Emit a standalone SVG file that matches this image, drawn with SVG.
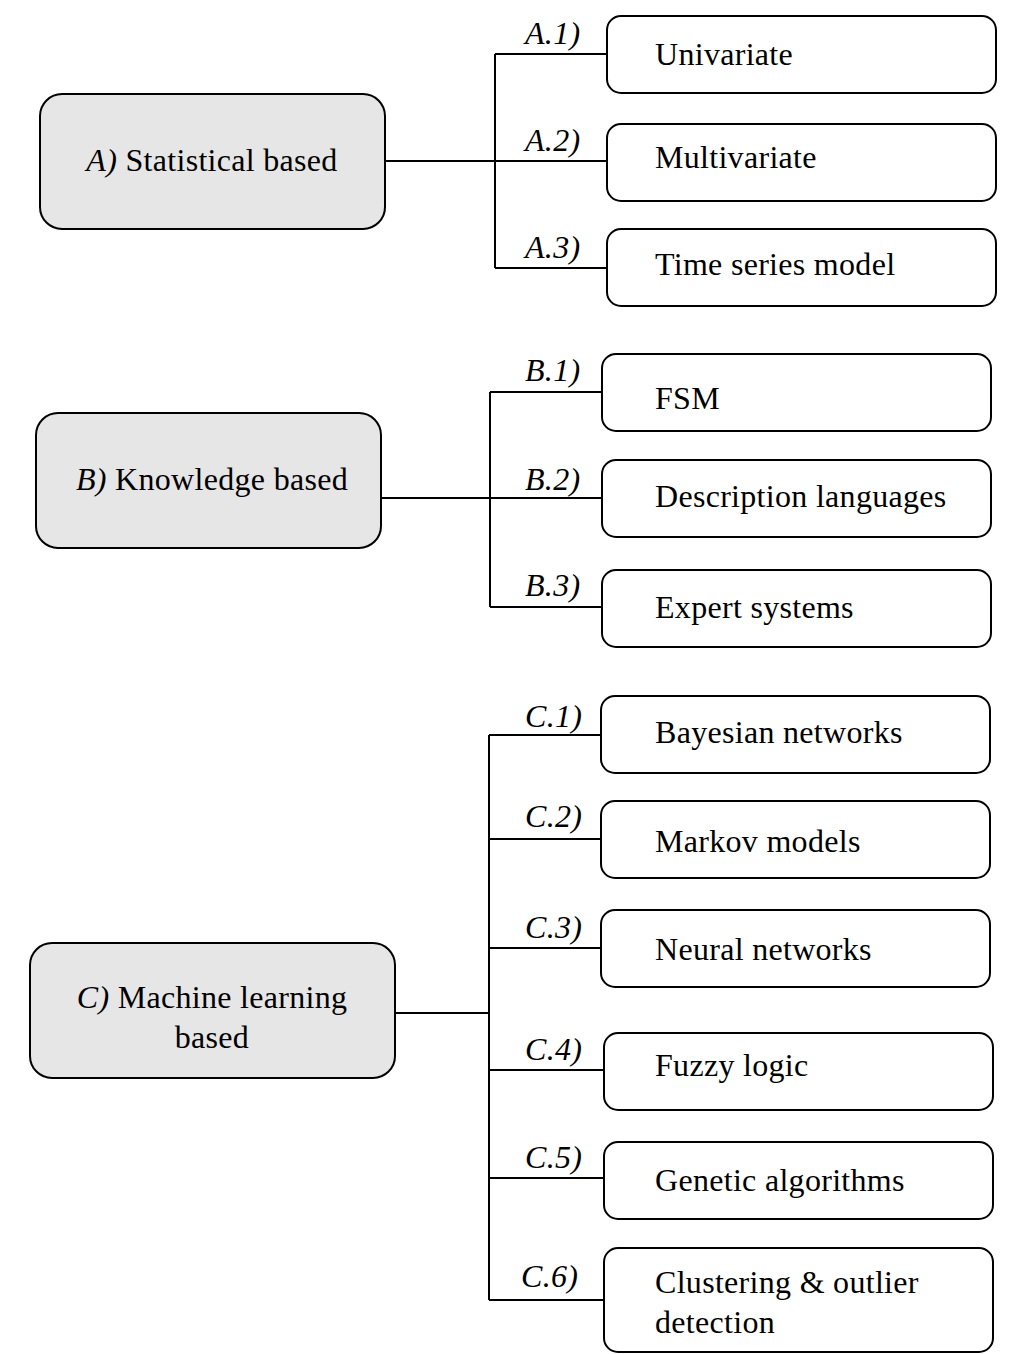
<svg xmlns="http://www.w3.org/2000/svg" width="1031" height="1354" viewBox="0 0 1031 1354">
<style>
.p{fill:#e6e6e6;stroke:#000;stroke-width:2}
.c{fill:#fff;stroke:#000;stroke-width:2}
text{font-family:"Liberation Serif",serif;font-size:32px;fill:#000;letter-spacing:0.3px}
.l{font-style:italic;font-size:32px}
.cn{stroke:#000;stroke-width:2;fill:none}
</style>
<rect width="1031" height="1354" fill="#fff"/>
<g id="connectors" class="cn">
<path d="M385 161H495M495 54V268M495 54H607M495 161H607M495 268H607"/>
<path d="M381 498H490M490 392V607M490 392H602M490 498H602M490 607H602"/>
<path d="M395 1013H489M489 735V1300M489 735H601M489 839H601M489 948H601M489 1070H604M489 1178H604M489 1300H604"/>
</g>
<g id="A"><rect class="p" x="40" y="94" width="345" height="135" rx="22"/><text x="212" y="171" text-anchor="middle"><tspan font-style="italic">A)</tspan> Statistical based</text></g>
<g id="B"><rect class="p" x="36" y="413" width="345" height="135" rx="22"/><text x="212" y="490" text-anchor="middle"><tspan font-style="italic">B)</tspan> Knowledge based</text></g>
<g id="C"><rect class="p" x="30" y="943" width="365" height="135" rx="22"/><text x="212" y="1008" text-anchor="middle"><tspan font-style="italic">C)</tspan> Machine learning</text><text x="212" y="1048" text-anchor="middle">based</text></g>
<g id="A1"><rect class="c" x="607" y="16" width="389" height="77" rx="14"/><text x="655" y="65">Univariate</text><text class="l" x="525" y="44">A.1)</text></g>
<g id="A2"><rect class="c" x="607" y="124" width="389" height="77" rx="14"/><text x="655" y="168">Multivariate</text><text class="l" x="525" y="151">A.2)</text></g>
<g id="A3"><rect class="c" x="607" y="229" width="389" height="77" rx="14"/><text x="655" y="275">Time series model</text><text class="l" x="525" y="258">A.3)</text></g>
<g id="B1"><rect class="c" x="602" y="354" width="389" height="77" rx="14"/><text x="655" y="409">FSM</text><text class="l" x="525" y="381">B.1)</text></g>
<g id="B2"><rect class="c" x="602" y="460" width="389" height="77" rx="14"/><text x="655" y="507">Description languages</text><text class="l" x="525" y="490">B.2)</text></g>
<g id="B3"><rect class="c" x="602" y="570" width="389" height="77" rx="14"/><text x="655" y="618">Expert systems</text><text class="l" x="525" y="596">B.3)</text></g>
<g id="C1"><rect class="c" x="601" y="696" width="389" height="77" rx="14"/><text x="655" y="743">Bayesian networks</text><text class="l" x="525" y="727">C.1)</text></g>
<g id="C2"><rect class="c" x="601" y="801" width="389" height="77" rx="14"/><text x="655" y="852">Markov models</text><text class="l" x="525" y="827">C.2)</text></g>
<g id="C3"><rect class="c" x="601" y="910" width="389" height="77" rx="14"/><text x="655" y="960">Neural networks</text><text class="l" x="525" y="938">C.3)</text></g>
<g id="C4"><rect class="c" x="604" y="1033" width="389" height="77" rx="14"/><text x="655" y="1076">Fuzzy logic</text><text class="l" x="525" y="1060">C.4)</text></g>
<g id="C5"><rect class="c" x="604" y="1142" width="389" height="77" rx="14"/><text x="655" y="1191">Genetic algorithms</text><text class="l" x="525" y="1168">C.5)</text></g>
<g id="C6"><rect class="c" x="604" y="1248" width="389" height="104" rx="14"/><text x="655" y="1293">Clustering &amp; outlier</text><text x="655" y="1333">detection</text><text class="l" x="521" y="1287">C.6)</text></g>
</svg>
